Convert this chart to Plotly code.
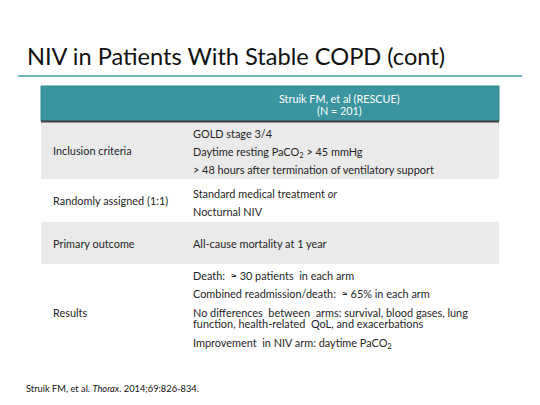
import plotly.graph_objects as go

# ---- content ----
title_text = "NIV in Patients With Stable COPD (cont)"
header_lines = ["Struik FM, et al (RESCUE)", "(N = 201)"]
row_labels = ["Inclusion criteria", "Randomly assigned (1:1)", "Primary outcome", "Results"]
row_details = [
    [["GOLD stage 3/4"],
     ["Daytime resting PaCO<sub>2</sub> > 45 mmHg"],
     ["> 48 hours after termination of ventilatory support"]],
    [["Standard medical treatment <i>or</i>"],
     ["Nocturnal NIV"]],
    [["All-cause mortality at 1 year"]],
    [["Death:  \u2248 30 patients  in each arm"],
     ["Combined readmission/death:  \u2248 65% in each arm"],
     ["No differences  between  arms: survival, blood gases, lung",
      "function, health-related  QoL, and exacerbations"],
     ["Improvement  in NIV arm: daytime PaCO<sub>2</sub>"]],
]
row_shaded = [True, False, True, False]
citation = "Struik FM, et al. <i>Thorax</i>. 2014;69:826-834."

# ---- layout constants ----
W, H = 540, 405
PAGE_OFF = 8  # page body margin
FONT = "Lato"
TEAL = "#3a95a0"
TEAL_LINE = "#3a9fac"
GRAY = "#eaeaea"
TXT = "#262626"
tbl_x0, tbl_x1, col_split = 41, 499, 179
hdr_y0, hdr_y1 = 86, 121
row_heights = [57, 43, 42, 96]
detail_shift = [0.5, 1.5, 0, -3.5]
item_pitch = 18.3
wrap_pitch = 11.6
body_size = 10.9

shapes = []
annotations = []


def text_at(x, yc, text, size=body_size, color=TXT, xanchor="left"):
    hb = size * 1.3 / 2 + 1
    annotations.append(dict(x=x, y=yc - hb, text=text, showarrow=False,
                            xanchor=xanchor, yanchor="top",
                            font=dict(family=FONT, size=size, color=color)))


# title
annotations.append(dict(x=25, y=56, text=title_text, showarrow=False, xanchor="left",
                        yanchor="middle", font=dict(family=FONT, size=23.6, color="#111111")))
shapes.append(dict(type="line", x0=18, x1=522, y0=76, y1=76,
                   line=dict(color=TEAL_LINE, width=1.5)))

# header
shapes.append(dict(type="rect", x0=tbl_x0, x1=tbl_x1, y0=hdr_y0, y1=hdr_y1,
                   fillcolor=TEAL, line=dict(color="#2e8893", width=1)))
for i, t in enumerate(header_lines):
    text_at((col_split + tbl_x1) / 2, 98 + i * 12.2, t, size=10.8, color="white",
            xanchor="center")

# rows
y = hdr_y1 + 1
for label, details, shaded, h, sh in zip(row_labels, row_details, row_shaded,
                                         row_heights, detail_shift):
    if shaded:
        shapes.append(dict(type="rect", x0=tbl_x0, x1=tbl_x1, y0=y, y1=y + h,
                           fillcolor=GRAY, line=dict(width=0), layer="below"))
    yc = y + h / 2
    text_at(tbl_x0 + 10, yc, label)
    offs = []
    cur = 0
    for k, item in enumerate(details):
        if k > 0:
            cur += item_pitch
        for j, line in enumerate(item):
            if j > 0:
                cur += wrap_pitch
            offs.append((cur, line))
    span = cur
    for o, line in offs:
        text_at(col_split + 12, yc + sh - span / 2 + o, line)
    y += h

# dark rule below header
shapes.append(dict(type="line", x0=tbl_x0, x1=tbl_x1, y0=hdr_y1 + 0.5, y1=hdr_y1 + 0.5,
                   line=dict(color="#3f3f3f", width=2)))

text_at(24, 388, citation, size=9.3, color="#111111")

fig = go.Figure()
fig.update_layout(
    width=W, height=H, margin=dict(l=0, r=0, t=0, b=0),
    paper_bgcolor="white", plot_bgcolor="white",
    xaxis=dict(range=[PAGE_OFF, W + PAGE_OFF], visible=False, fixedrange=True),
    yaxis=dict(range=[H + PAGE_OFF, PAGE_OFF], visible=False, fixedrange=True),
    shapes=shapes, annotations=annotations, showlegend=False,
)
fig.write_html("out.html")
